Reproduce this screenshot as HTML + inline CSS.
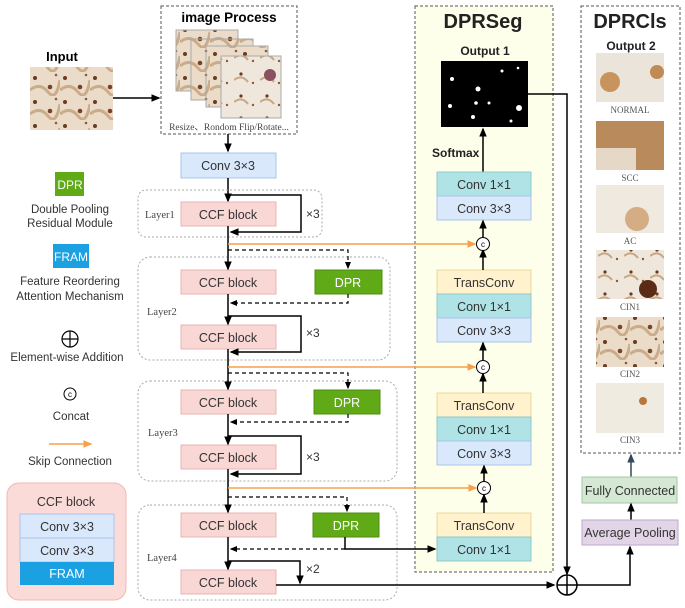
<!DOCTYPE html>
<html><head><meta charset="utf-8"><style>body{margin:0;background:#fff}svg{display:block}.s{font-family:"Liberation Serif",serif}</style></head><body>
<svg width="685" height="608" viewBox="0 0 685 608" xmlns="http://www.w3.org/2000/svg" font-family="Liberation Sans, sans-serif">
<defs>
<marker id="a" markerWidth="6" markerHeight="6" refX="5" refY="3" orient="auto"><path d="M0,0.5 L6,3 L0,5.5z" fill="#000"/></marker>
<marker id="ao" markerWidth="6" markerHeight="6" refX="5" refY="3" orient="auto"><path d="M0,0.5 L6,3 L0,5.5z" fill="#f7a04a"/></marker>
<marker id="ab" markerWidth="6" markerHeight="6" refX="5" refY="3" orient="auto"><path d="M0,0.5 L6,3 L0,5.5z" fill="#34495e"/></marker>
<pattern id="tex" width="30" height="24" patternUnits="userSpaceOnUse"><rect width="30" height="24" fill="#eadcc8"/><circle cx="5" cy="6" r="2" fill="#6b3a22"/><circle cx="20" cy="15" r="2.3" fill="#7a4028"/><path d="M0 18 Q10 10 18 20 T30 8" stroke="#b48a60" stroke-width="3" fill="none" opacity=".6"/><circle cx="26" cy="3" r="1.3" fill="#8b5a3a"/></pattern>
<pattern id="tex2" width="26" height="22" patternUnits="userSpaceOnUse"><rect width="26" height="22" fill="#efe7dc"/><circle cx="7" cy="8" r="1.6" fill="#6b3a22"/><circle cx="19" cy="17" r="1.2" fill="#8b5a3a"/><path d="M0 14 Q8 8 14 16" stroke="#c9a684" stroke-width="2" fill="none"/></pattern>
</defs>
<g font-size="12.5" fill="#333">
<text x="62" y="61" text-anchor="middle" font-weight="bold" font-size="13" fill="#000">Input</text>
<rect x="30" y="67" width="83" height="63" fill="url(#tex)"/>
<line x1="113" y1="98" x2="159" y2="98" stroke="#000" stroke-width="1.5" marker-end="url(#a)"/>
<rect x="161" y="6" width="136" height="128" fill="none" stroke="#555" stroke-dasharray="3,2"/>
<text x="229" y="22" text-anchor="middle" font-weight="bold" font-size="13.5" fill="#000">image Process</text>
<rect x="176" y="30" width="62" height="61" fill="url(#tex)" stroke="#aaa"/>
<rect x="191" y="39" width="62" height="61" fill="url(#tex)" stroke="#aaa"/>
<rect x="206" y="46" width="62" height="61" fill="url(#tex)" stroke="#aaa"/>
<rect x="221" y="56" width="60" height="62" fill="url(#tex2)" stroke="#aaa"/>
<circle cx="270" cy="75" r="6" fill="#8a5060"/>
<text x="229" y="130" text-anchor="middle" class="s" font-size="9.5" fill="#444">Resize、Rondom Flip/Rotate...</text>
<line x1="228" y1="134" x2="228" y2="151" stroke="#000" stroke-width="1.5" marker-end="url(#a)"/>
<rect x="181" y="153" width="95" height="25" fill="#dae8fc" stroke="#a9c4eb"/>
<text x="228" y="170" text-anchor="middle">Conv 3×3</text>
<line x1="228" y1="178" x2="228" y2="201" stroke="#000" stroke-width="1.5" marker-end="url(#a)"/>
<g fill="none" stroke="#aaa" stroke-dasharray="2,2">
<rect x="138" y="190" width="184" height="47" rx="8"/>
<rect x="138" y="257" width="252" height="103" rx="12"/>
<rect x="138" y="381" width="259" height="100" rx="12"/>
<rect x="138" y="505" width="259" height="95" rx="12"/>
</g>
<g class="s" font-size="10.5" fill="#444">
<text x="145" y="218" class="s">Layer1</text><text x="147" y="315" class="s">Layer2</text><text x="148" y="436" class="s">Layer3</text><text x="147" y="561" class="s">Layer4</text>
</g>
<g fill="#f8d7d4" stroke="#e8b4b0">
<rect x="181" y="202" width="95" height="24"/><rect x="181" y="270" width="95" height="24"/><rect x="181" y="325" width="95" height="24"/>
<rect x="181" y="390" width="95" height="24"/><rect x="181" y="445" width="95" height="24"/><rect x="181" y="513" width="95" height="24"/><rect x="181" y="570" width="95" height="24"/>
</g>
<g text-anchor="middle">
<text x="228" y="219">CCF block</text><text x="228" y="287">CCF block</text><text x="228" y="342">CCF block</text>
<text x="228" y="407">CCF block</text><text x="228" y="462">CCF block</text><text x="228" y="530">CCF block</text><text x="228" y="587">CCF block</text>
</g>
<g fill="#60a917" stroke="#4d8f12">
<rect x="315" y="270" width="67" height="24"/><rect x="314" y="390" width="66" height="24"/><rect x="313" y="513" width="66" height="24"/>
</g>
<g text-anchor="middle" fill="#fff"><text x="348" y="287">DPR</text><text x="347" y="407">DPR</text><text x="346" y="530">DPR</text></g>
<g stroke="#000" stroke-width="1.5" fill="none">
<line x1="228" y1="226" x2="228" y2="269" marker-end="url(#a)"/>
<polyline points="228,195 301,195 301,232 231,232" marker-end="url(#a)"/>
<line x1="228" y1="294" x2="228" y2="324" marker-end="url(#a)"/>
<polyline points="228,316 301,316 301,352 231,352" marker-end="url(#a)"/>
<line x1="228" y1="349" x2="228" y2="389" marker-end="url(#a)"/>
<line x1="228" y1="414" x2="228" y2="444" marker-end="url(#a)"/>
<polyline points="228,436 301,436 301,474 231,474" marker-end="url(#a)"/>
<line x1="228" y1="469" x2="228" y2="512" marker-end="url(#a)"/>
<line x1="228" y1="537" x2="228" y2="569" marker-end="url(#a)"/>
<polyline points="228,561 300,561 300,583" marker-end="url(#a)"/>
<line x1="276" y1="585" x2="554" y2="585" marker-end="url(#a)"/>
</g>
<g stroke="#000" stroke-width="1.2" fill="none" stroke-dasharray="4,3">
<polyline points="228,250 348,250 348,268" marker-end="url(#a)"/>
<polyline points="348,294 348,303 231,303" marker-end="url(#a)"/>
<polyline points="228,373 348,373 348,388" marker-end="url(#a)"/>
<polyline points="348,414 348,422 231,422" marker-end="url(#a)"/>
<polyline points="228,497 347,497 347,511" marker-end="url(#a)"/>
<polyline points="345,549 231,549" marker-end="url(#a)"/>
</g>
<g font-size="12" fill="#333"><text x="306" y="218">×3</text><text x="306" y="337">×3</text><text x="306" y="461">×3</text><text x="306" y="573">×2</text></g>
<rect x="415" y="6" width="138" height="566" fill="#fdffea" stroke="#555" stroke-dasharray="3,2"/>
<line x1="228" y1="244" x2="475" y2="244" stroke="#f7a04a" stroke-width="1.5" marker-end="url(#ao)"/>
<line x1="228" y1="367" x2="475" y2="367" stroke="#f7a04a" stroke-width="1.5" marker-end="url(#ao)"/>
<line x1="228" y1="488" x2="476" y2="488" stroke="#f7a04a" stroke-width="1.5" marker-end="url(#ao)"/>
<polyline points="345,537 345,549 435,549" stroke="#000" stroke-width="1.5" fill="none" marker-end="url(#a)"/>
<text x="483" y="28" text-anchor="middle" font-weight="bold" font-size="20" fill="#222">DPRSeg</text>
<text x="485" y="55" text-anchor="middle" font-weight="bold" font-size="12" fill="#222">Output 1</text>
<rect x="441" y="61" width="87" height="66" fill="#000"/>
<g fill="#fff"><circle cx="452" cy="79" r="2"/><circle cx="478" cy="89" r="2.5"/><circle cx="450" cy="106" r="2"/><circle cx="476" cy="103" r="1.8"/><circle cx="502" cy="71" r="1.5"/><circle cx="519" cy="108" r="3"/><circle cx="473" cy="117" r="2"/><circle cx="511" cy="121" r="1.5"/><circle cx="518" cy="68" r="1.3"/><circle cx="489" cy="103" r="1.5"/></g>
<polyline points="528,94 567,94 567,574" stroke="#000" stroke-width="1.5" fill="none" marker-end="url(#a)"/>
<line x1="483" y1="172" x2="483" y2="129" stroke="#000" stroke-width="1.5" marker-end="url(#a)"/>
<text x="432" y="157" font-weight="bold" font-size="12" fill="#222">Softmax</text>
<g stroke-width="1">
<rect x="437" y="172" width="94" height="24" fill="#b0e3e6" stroke="#8fc9cc"/><rect x="437" y="196" width="94" height="24" fill="#dae8fc" stroke="#a9c4eb"/>
<rect x="437" y="270" width="94" height="24" fill="#fff2cc" stroke="#ecd89c"/><rect x="437" y="294" width="94" height="24" fill="#b0e3e6" stroke="#8fc9cc"/><rect x="437" y="318" width="94" height="24" fill="#dae8fc" stroke="#a9c4eb"/>
<rect x="437" y="393" width="94" height="24" fill="#fff2cc" stroke="#ecd89c"/><rect x="437" y="417" width="94" height="24" fill="#b0e3e6" stroke="#8fc9cc"/><rect x="437" y="441" width="94" height="24" fill="#dae8fc" stroke="#a9c4eb"/>
<rect x="437" y="513" width="94" height="24" fill="#fff2cc" stroke="#ecd89c"/><rect x="437" y="537" width="94" height="24" fill="#b0e3e6" stroke="#8fc9cc"/>
</g>
<g text-anchor="middle">
<text x="484" y="189">Conv 1×1</text><text x="484" y="213">Conv 3×3</text>
<text x="484" y="287">TransConv</text><text x="484" y="311">Conv 1×1</text><text x="484" y="335">Conv 3×3</text>
<text x="484" y="410">TransConv</text><text x="484" y="434">Conv 1×1</text><text x="484" y="458">Conv 3×3</text>
<text x="484" y="530">TransConv</text><text x="484" y="554">Conv 1×1</text>
</g>
<g stroke="#000" stroke-width="1.5">
<line x1="483" y1="237" x2="483" y2="221" marker-end="url(#a)"/><line x1="483" y1="270" x2="483" y2="250" marker-end="url(#a)"/>
<line x1="483" y1="361" x2="483" y2="343" marker-end="url(#a)"/><line x1="483" y1="393" x2="483" y2="374" marker-end="url(#a)"/>
<line x1="484" y1="482" x2="484" y2="466" marker-end="url(#a)"/><line x1="484" y1="513" x2="484" y2="495" marker-end="url(#a)"/>
</g>
<g fill="#fff" stroke="#000" stroke-width="1"><circle cx="483" cy="244" r="6.5"/><circle cx="483" cy="367" r="6.5"/><circle cx="484" cy="488" r="6.5"/></g>
<g font-size="8" text-anchor="middle" fill="#000"><text x="483" y="247">c</text><text x="483" y="370">c</text><text x="484" y="491">c</text></g>
<circle cx="567" cy="585" r="10" fill="#fff" stroke="#000" stroke-width="1.5"/>
<path d="M557 585h20M567 575v20" stroke="#000" stroke-width="1.5"/>
<polyline points="577,585 630,585 630,547" stroke="#000" stroke-width="1.5" fill="none" marker-end="url(#a)"/>
<rect x="581" y="6" width="99" height="447" fill="none" stroke="#555" stroke-dasharray="3,2"/>
<text x="630" y="28" text-anchor="middle" font-weight="bold" font-size="20" fill="#222">DPRCls</text>
<text x="631" y="50" text-anchor="middle" font-weight="bold" font-size="12" fill="#222">Output 2</text>
<rect x="596" y="53" width="68" height="49" fill="#ebe4da"/><circle cx="610" cy="82" r="10" fill="#c9935e"/><circle cx="657" cy="72" r="7" fill="#c08a55"/>
<rect x="596" y="121" width="68" height="49" fill="#b98a5c"/><rect x="596" y="148" width="40" height="22" fill="#e5d8c6"/>
<rect x="596" y="185" width="68" height="48" fill="#efe9e0"/><circle cx="637" cy="219" r="12" fill="#d4ad85"/>
<rect x="596" y="250" width="68" height="49" fill="url(#tex2)"/><circle cx="648" cy="289" r="9" fill="#5a2c16"/>
<rect x="596" y="317" width="68" height="50" fill="url(#tex)"/>
<rect x="596" y="383" width="68" height="50" fill="#f0ebe1"/><circle cx="643" cy="401" r="4" fill="#b7773d"/>
<g class="s" font-size="9" fill="#555" text-anchor="middle">
<text x="630" y="113" class="s">NORMAL</text><text x="630" y="181" class="s">SCC</text><text x="630" y="244" class="s">AC</text><text x="630" y="310" class="s">CIN1</text><text x="630" y="377" class="s">CIN2</text><text x="630" y="443" class="s">CIN3</text>
</g>
<line x1="631" y1="477" x2="631" y2="455" stroke="#34495e" stroke-width="1.5" marker-end="url(#ab)"/>
<rect x="582" y="477" width="95" height="26" fill="#d5e8d4" stroke="#a3c9a1"/>
<text x="630" y="495" text-anchor="middle">Fully Connected</text>
<line x1="631" y1="520" x2="631" y2="504" stroke="#000" stroke-width="1.5" marker-end="url(#a)"/>
<rect x="582" y="520" width="96" height="25" fill="#e1d5e7" stroke="#c0a6cc"/>
<text x="630" y="537" text-anchor="middle">Average Pooling</text>
<rect x="55" y="172" width="29" height="24" fill="#60a917"/><text x="70" y="189" text-anchor="middle" fill="#fff" font-size="12">DPR</text>
<g text-anchor="middle" font-size="11.5" fill="#333">
<text x="70" y="213">Double  Pooling</text><text x="70" y="227">Residual Module</text>
<text x="70" y="285">Feature Reordering</text><text x="70" y="300">Attention Mechanism</text>
<text x="67" y="361">Element-wise Addition</text>
<text x="71" y="420">Concat</text><text x="70" y="465">Skip Connection</text>
</g>
<rect x="53" y="244" width="36" height="24" fill="#1ba1e2"/><text x="71" y="261" text-anchor="middle" fill="#fff" font-size="12">FRAM</text>
<circle cx="70" cy="339" r="8" fill="none" stroke="#000" stroke-width="1.2"/><path d="M62 339h16M70 331v16" stroke="#000" stroke-width="1.2"/>
<circle cx="70" cy="394" r="6" fill="none" stroke="#000"/><text x="70" y="397" text-anchor="middle" font-size="8" fill="#000">c</text>
<line x1="49" y1="444" x2="91" y2="444" stroke="#f7a04a" stroke-width="1.5" marker-end="url(#ao)"/>
<rect x="7" y="483" width="119" height="117" rx="12" fill="#fadbd8" stroke="#f0b8b4"/>
<text x="66" y="506" text-anchor="middle">CCF block</text>
<rect x="20" y="514" width="94" height="24" fill="#dae8fc" stroke="#a9c4eb"/><text x="67" y="531" text-anchor="middle">Conv 3×3</text>
<rect x="20" y="538" width="94" height="24" fill="#dae8fc" stroke="#a9c4eb"/><text x="67" y="555" text-anchor="middle">Conv 3×3</text>
<rect x="20" y="562" width="94" height="23" fill="#1ba1e2"/><text x="67" y="578" text-anchor="middle" fill="#fff">FRAM</text>
</g>
</svg>
</body></html>
